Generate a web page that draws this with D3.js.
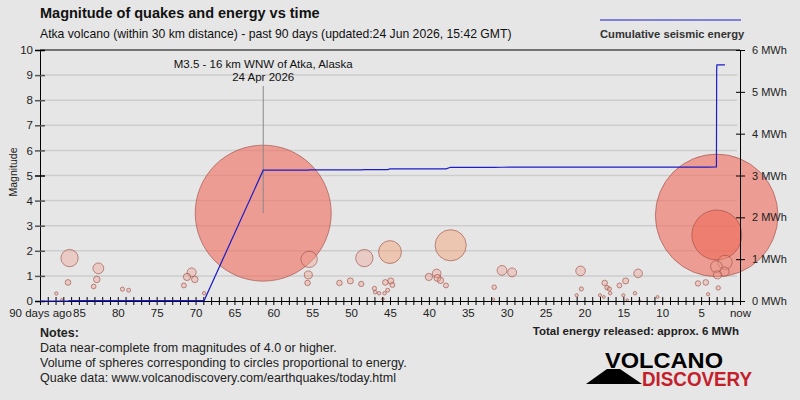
<!DOCTYPE html>
<html>
<head>
<meta charset="utf-8">
<script src="https://cdn.jsdelivr.net/npm/d3@7"></script>
<style>
  body { margin: 0; background: #e6e6e6; }
  svg { display: block; font-family: "Liberation Sans", Arial, sans-serif; }
</style>
</head>
<body>
<div id="chart-area"></div>
<script>
// quakes: days before the update, magnitude
const daysAgo = [
  87.9, 87.2, 86.4, 86.2, 83.1, 82.7, 82.5, 79.4, 78.6,
  71.5, 71.1, 70.5, 70.1, 68.9, 61.3,
  55.6, 55.5, 55.4, 51.5, 50.1, 48.7, 48.3, 47.0, 46.9, 46.4, 45.9, 45.7, 45.6, 45.3, 45.0, 44.9, 44.7,
  40.0, 39.0, 38.9, 38.5, 37.8, 37.2, 31.7, 31.6, 30.6, 29.3,
  21.0, 20.5, 20.4, 18.0, 17.5, 17.4, 17.1, 16.8, 16.7, 15.5, 15.0, 14.7, 14.5, 13.5, 13.1, 12.9, 10.6,
  5.4, 4.4, 4.1, 2.98, 3.0, 3.03, 2.9, 2.8, 2.0, 1.93
];
const magnitudes = [
  0.3, 0.05, 0.74, 1.71, 0.58, 0.86, 1.3, 0.47, 0.43,
  0.62, 0.96, 1.14, 0.86, 0.31, 3.5,
  0.72, 1.04, 1.66, 0.72, 0.8, 0.68, 1.71, 0.5, 0.35, 0.31, 0.08, 0.31, 0.74, 0.43, 1.95, 0.8, 0.64,
  0.96, 1.1, 0.92, 0.82, 0.62, 2.22, 0.07, 0.55, 1.22, 1.14,
  0.23, 1.2, 0.48, 0.23, 0.16, 0.72, 0.53, 0.48, 0.31, 0.62, 0.23, 0.8, 0.04, 0.31, 1.1, 0.0, 0.16,
  0.7, 0.74, 0.27, 2.63, 3.41, 1.37, 1.04, 0.52, 1.17, 1.54
];

const magTicks = d3.range(0, 11);
const energyTicks = d3.range(0, 7);
const dayTicks = d3.range(0, 91);
const updated = new Date(Date.UTC(2026, 5, 24, 15, 42));

const canvas_dims = { width: 800, height: 400 };
const plot = { left: 40, right: 740, top: 50, bottom: 301 };

const svg = d3
  .select("#chart-area")
  .append("svg")
  .attr("width", canvas_dims.width)
  .attr("height", canvas_dims.height);

svg.append("rect")
  .attr("width", canvas_dims.width)
  .attr("height", canvas_dims.height)
  .attr("fill", "#e6e6e6");

const x = d3.scaleLinear().domain([90, 0]).range([plot.left, plot.right]);
const yMag = d3.scaleLinear().domain([0, 10]).range([plot.bottom, plot.top]);
const yEnergy = d3.scaleLinear().domain([0, 6]).range([plot.bottom, plot.top]);

// energy in MWh from magnitude
const toMWh = m => Math.pow(10, 1.5 * m + 4.8) / 3.6e9;

const quakes = daysAgo
  .map((d, i) => ({ ago: d, mag: magnitudes[i], energy: toMWh(magnitudes[i]) }))
  .sort((a, b) => b.ago - a.ago);

let total = 0;
const cumulative = [{ ago: 90, e: 0 }].concat(
  quakes.map(q => ({ ago: q.ago, e: (total += q.energy) }))
);

// sphere volume ~ energy, so radius ~ energy^(1/3)
const radius = d3.scalePow().exponent(1 / 3).domain([0, toMWh(3.5)]).range([0, 68]);
const fill = d3.scaleThreshold().domain([1.8, 2.5]).range(["#f0a090", "#f5a070", "#f06a5a"]);
const fillOpacity = d3.scaleThreshold().domain([1.8, 2.5]).range([0.4, 0.45, 0.6]);

// grid
svg.append("g")
  .selectAll("line")
  .data(magTicks.filter(d => d > 0 && d < 10))
  .enter()
  .append("line")
  .attr("x1", plot.left)
  .attr("x2", plot.right - 3)
  .attr("y1", d => yMag(d))
  .attr("y2", d => yMag(d))
  .attr("stroke", "#cdcdcd")
  .attr("stroke-width", 1.5);

// bubbles
svg.append("g")
  .selectAll("circle")
  .data(quakes.slice().sort((a, b) => b.mag - a.mag))
  .enter()
  .append("circle")
  .attr("cx", d => x(d.ago))
  .attr("cy", d => yMag(d.mag))
  .attr("r", d => Math.max(radius(d.energy), 1))
  .attr("fill", d => fill(d.mag))
  .attr("fill-opacity", d => fillOpacity(d.mag))
  .attr("stroke", "#9a4a40")
  .attr("stroke-opacity", 0.6);

// annotation of the largest quake
const biggest = quakes.reduce((a, b) => (b.mag > a.mag ? b : a));
const bigDate = new Date(updated.getTime() - biggest.ago * 864e5);
svg.append("line")
  .attr("x1", x(biggest.ago))
  .attr("x2", x(biggest.ago))
  .attr("y1", 86)
  .attr("y2", yMag(biggest.mag))
  .attr("stroke", "#888")
  .attr("stroke-width", 1);
svg.append("text")
  .attr("x", x(biggest.ago))
  .attr("y", 67.5)
  .attr("text-anchor", "middle")
  .attr("font-size", "11.5px")
  .attr("fill", "#111")
  .text(`M${biggest.mag.toFixed(1)} - 16 km WNW of Atka, Alaska`);
svg.append("text")
  .attr("x", x(biggest.ago))
  .attr("y", 80.5)
  .attr("text-anchor", "middle")
  .attr("font-size", "11.5px")
  .attr("fill", "#111")
  .text(d3.utcFormat("%d %b %Y")(bigDate));

// axes
const xAxis = d3.axisBottom(x)
  .tickValues(dayTicks)
  .tickSize(0)
  .tickSizeOuter(0)
  .tickFormat(d => (d === 90 ? "90 days ago" : d === 0 ? "now" : d % 5 === 0 ? d : ""));
const gx = svg.append("g")
  .attr("transform", `translate(0,${plot.bottom})`)
  .call(xAxis);
gx.select(".domain").attr("stroke", "#000");
gx.selectAll(".tick line").attr("y1", -4).attr("y2", 4).attr("stroke", "#000");
gx.selectAll(".tick text")
  .attr("y", 8)
  .attr("font-size", "11.5px")
  .attr("font-family", "Liberation Sans, Arial, sans-serif")
  .attr("fill", "#222");

const yAxis = d3.axisLeft(yMag).tickValues(magTicks).tickSize(0).tickSizeOuter(0);
const gy = svg.append("g")
  .attr("transform", `translate(${plot.left},0)`)
  .call(yAxis);
gy.select(".domain").attr("stroke", "#000");
gy.selectAll(".tick line")
  .attr("x1", -5)
  .attr("x2", 5)
  .attr("stroke", d => (d % 5 === 0 ? "#000" : "#555"))
  .attr("stroke-width", 1.5);
gy.selectAll(".tick text")
  .attr("x", -7)
  .attr("font-size", "11.5px")
  .attr("font-family", "Liberation Sans, Arial, sans-serif")
  .attr("fill", "#222");

const eAxis = d3.axisRight(yEnergy)
  .tickValues(energyTicks)
  .tickSize(0)
  .tickSizeOuter(0)
  .tickFormat(d => `${d} MWh`);
const ge = svg.append("g")
  .attr("transform", `translate(${plot.right},0)`)
  .call(eAxis);
ge.select(".domain").attr("stroke", "#000");
ge.selectAll(".tick line").attr("x1", -4).attr("x2", 5).attr("stroke", "#000");
ge.selectAll(".tick text")
  .attr("x", 12)
  .attr("font-size", "11px")
  .attr("font-family", "Liberation Sans, Arial, sans-serif")
  .attr("fill", "#222");

// top border
svg.append("line")
  .attr("x1", plot.left)
  .attr("x2", plot.right)
  .attr("y1", plot.top)
  .attr("y2", plot.top)
  .attr("stroke", "#000");

// y axis-label
svg.append("text")
  .attr("transform", "translate(17,172) rotate(-90)")
  .attr("text-anchor", "middle")
  .attr("font-size", "10.5px")
  .attr("fill", "#222")
  .text("Magnitude");

// cumulative energy line
const line = d3.line().x(d => x(d.ago)).y(d => yEnergy(d.e));
svg.append("path")
  .datum(cumulative)
  .attr("d", line)
  .attr("fill", "none")
  .attr("stroke", "#1c1cc8")
  .attr("stroke-width", 1.2);

// titles
svg.append("text")
  .attr("x", 40)
  .attr("y", 18)
  .attr("font-size", "14.5px")
  .attr("font-weight", "bold")
  .attr("fill", "#111")
  .text("Magnitude of quakes and energy vs time");
svg.append("text")
  .attr("x", 40)
  .attr("y", 38)
  .attr("font-size", "12.2px")
  .attr("fill", "#111")
  .text(`Atka volcano (within 30 km distance) - past 90 days (updated:${d3.utcFormat("%d %b %Y, %H:%M")(updated)} GMT)`);

// legend
svg.append("line")
  .attr("x1", 600)
  .attr("x2", 741)
  .attr("y1", 20)
  .attr("y2", 20)
  .attr("stroke", "#1c1cc8")
  .attr("stroke-width", 1.2);
svg.append("text")
  .attr("x", 600)
  .attr("y", 38)
  .attr("font-size", "11.2px")
  .attr("font-weight", "bold")
  .attr("fill", "#333")
  .text("Cumulative seismic energy");

// notes
const notes = [
  "Data near-complete from magnitudes of 4.0 or higher.",
  "Volume of spheres corresponding to circles proportional to energy.",
  "Quake data: www.volcanodiscovery.com/earthquakes/today.html"
];
svg.append("text")
  .attr("x", 40)
  .attr("y", 337)
  .attr("font-size", "12.5px")
  .attr("font-weight", "bold")
  .attr("fill", "#222")
  .text("Notes:");
svg.append("g")
  .selectAll("text")
  .data(notes)
  .enter()
  .append("text")
  .attr("x", 40)
  .attr("y", (d, i) => 352 + i * 15)
  .attr("font-size", "12.5px")
  .attr("fill", "#222")
  .text(d => d);

svg.append("text")
  .attr("x", 739)
  .attr("y", 335)
  .attr("text-anchor", "end")
  .attr("font-size", "11.5px")
  .attr("font-weight", "bold")
  .attr("fill", "#222")
  .text(`Total energy released: approx. ${Math.round(total)} MWh`);

// logo
const logo = svg.append("g");
logo.append("polygon")
  .attr("points", "586,384 607,369 620,369 642,384")
  .attr("fill", "#000");
logo.append("text")
  .attr("x", 605)
  .attr("y", 369)
  .attr("font-size", "22px")
  .attr("font-weight", "bold")
  .attr("textLength", 118)
  .attr("lengthAdjust", "spacingAndGlyphs")
  .attr("transform", "translate(0,-1) scale(1,1)")
  .attr("fill", "#000")
  .text("VOLCANO");
logo.append("text")
  .attr("x", 642)
  .attr("y", 386)
  .attr("font-size", "19.5px")
  .attr("font-weight", "bold")
  .attr("textLength", 110)
  .attr("lengthAdjust", "spacingAndGlyphs")
  .attr("fill", "#c4202c")
  .text("DISCOVERY");
</script>
</body>
</html>
